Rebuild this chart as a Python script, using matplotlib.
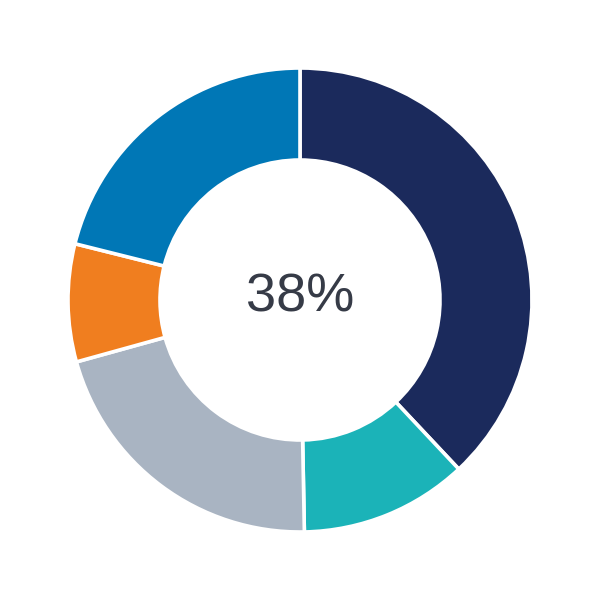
import matplotlib
matplotlib.use("Agg")
import matplotlib.pyplot as plt

labels = ["Navy", "Teal", "Gray", "Orange", "Blue"]
values = [38, 11.7, 21, 8.2, 21.1]
colors = ["#1B2A5C", "#1BB3B8", "#A9B4C2", "#F07E1F", "#0077B6"]
center_text = "38%"

fig = plt.figure(figsize=(6, 6), dpi=100)
ax = fig.add_axes([0, 0, 1, 1])

outer_r = 232
inner_r = 140
ax.pie(values, colors=colors, startangle=90, counterclock=False,
       radius=outer_r, center=(0, 0), frame=True,
       wedgeprops=dict(width=outer_r - inner_r, edgecolor="white", linewidth=2.6))
ax.set_xlim(-300, 300)
ax.set_ylim(-300, 300)
ax.set_aspect("equal")
ax.axis("off")

ax.text(0, 2, center_text, ha="center", va="center", fontsize=39,
        family=["Liberation Sans", "DejaVu Sans"], color="#363B47")

fig.savefig("out.png", dpi=100)
